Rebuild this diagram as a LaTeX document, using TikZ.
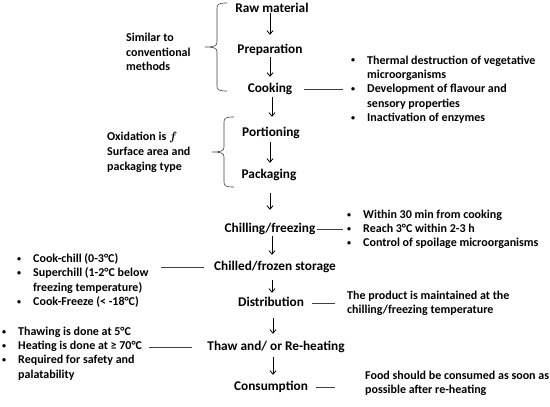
\documentclass[tikz,border=0pt]{standalone}
\usepackage{fontspec}
\setmainfont{Carlito}
\usetikzlibrary{arrows.meta}
\newcommand\bitem{\makebox[16pt][l]{\raisebox{1.2pt}{\fontsize{8}{8}\selectfont\textbullet}}}
\newcommand\bindent{\makebox[16pt][l]{}}
\begin{document}
\begin{tikzpicture}[x=1pt,y=-1pt,
  mainbox/.style={font=\fontsize{13.3}{15}\selectfont\bfseries, inner sep=0pt, text height=9pt, text depth=3pt, anchor=base},
  side/.style={font=\fontsize{12}{14.3}\selectfont\bfseries, inner sep=0pt, align=left, anchor=west},
  arr/.style={draw=black, line width=0.8pt, -{Straight Barb[length=3.5pt,width=6pt,line width=0.8pt]}},
  conn/.style={draw=black!75, line width=0.6pt},
  bracestyle/.style={draw=black!75, line width=0.6pt}]
\useasboundingbox (0,0) rectangle (550,407);
% main steps
\node[mainbox] (raw)  at (272,12.5)  {Raw material};
\node[mainbox] (prep) at (270,53.5)  {Preparation};
\node[mainbox] (cook) at (270,92.5)  {Cooking};
\node[mainbox] (port) at (271,136.5) {Portioning};
\node[mainbox] (pack) at (269,178.5) {Packaging};
\node[mainbox] (chill) at (270,232.5) {Chilling/freezing};
\node[mainbox] (stor) at (275,270.5) {Chilled/frozen storage};
\node[mainbox] (dist) at (271,306.5) {Distribution};
\node[mainbox] (thaw) at (276,350.5) {Thaw and/ or Re-heating};
\node[mainbox] (cons) at (271,390.5) {Consumption};
% arrows
\draw[arr, shorten <=-2.5pt, shorten >=9.5pt] (270,15.5) coordinate (a1) -- (a1 |- prep.north);
\draw[arr, shorten <=0.5pt, shorten >=6.5pt] (prep.south -| a1) -- (a1 |- cook.north);
\draw[arr, shorten <=1.5pt, shorten >=10.5pt] (272,95.5) coordinate (a3) -- (a3 |- port.north);
\draw[arr, shorten <=2.5pt, shorten >=6.5pt] (270,139.5) coordinate (a4) -- (a4 |- pack.north);
\draw[arr, shorten <=11.5pt, shorten >=13.5pt] (pack.south -| a4) -- (a4 |- chill.north);
\draw[arr, shorten <=0.5pt, shorten >=6.5pt] (272,235.5) coordinate (a6) -- (a6 |- stor.north);
\draw[arr, shorten <=6.5pt, shorten >=4.5pt] (stor.south -| a6) -- (a6 |- dist.north);
\draw[arr, shorten <=8.5pt, shorten >=7.5pt] (273,309.5) coordinate (a8) -- (a8 |- thaw.north);
\draw[arr, shorten <=3.5pt, shorten >=6.5pt] (thaw.south -| a8) -- (a8 |- cons.north);
% side texts
\node[side] (sim) at (126,52) {Similar to\\conventional\\methods};
\node[side, font=\fontsize{12}{15}\selectfont\bfseries] (oxi) at (107,152) {Oxidation is {\boldmath$f$}\\Surface area and\\packaging type};
\node[side] (cookl) at (351,89.5) {\bitem Thermal destruction of vegetative\\\bindent microorganisms\\\bitem Development of flavour and\\\bindent sensory properties\\\bitem Inactivation of enzymes};
\node[side] (chilll) at (347,229.5) {\bitem Within 30 min from cooking\\\bitem Reach 3°C within 2-3 h\\\bitem Control of spoilage microorganisms};
\node[side] (storl) at (17,280.5) {\bitem Cook-chill (0-3°C)\\\bitem Superchill (1-2°C below\\\bindent freezing temperature)\\\bitem Cook-Freeze (< -18°C)};
\node[side] (distl) at (347,303.5) {The product is maintained at the\\chilling/freezing temperature};
\node[side] (thawl) at (2,353.5) {\bitem Thawing is done at 5°C\\\bitem Heating is done at ≥ 70°C\\\bitem Required for safety and\\\bindent palatability};
\node[side] (consl) at (365,383.5) {Food should be consumed as soon as\\possible after re-heating};
% connectors
\draw[conn, shorten <=12pt, shorten >=8pt] (cook.east) -- (cook.east -| cookl.west);
\draw[conn, shorten <=1pt, shorten >=4pt] (chill.east) -- (chill.east -| chilll.west);
\draw[conn, shorten <=10pt, shorten >=12pt] (stor.west) -- (stor.west -| storl.east);
\draw[conn, shorten <=8pt, shorten >=12pt] (dist.east) -- (dist.east -| distl.west);
\draw[conn, shorten <=15pt, shorten >=7pt] (thaw.west) -- (thaw.west -| thawl.east);
\draw[conn, shorten <=8pt, shorten >=30pt] (cons.east) -- (cons.east -| consl.west);
% braces
\draw[bracestyle] (227,3) .. controls (219,3) and (217,4) .. (217,8) -- (217,42) .. controls (217,46) and (214,47) .. (205,47)
  .. controls (214,47) and (217,48) .. (217,52) -- (217,86) .. controls (217,90) and (219,91) .. (227,91);
\draw[bracestyle] (234,117) .. controls (226,117) and (224,118) .. (224,122) -- (224,147) .. controls (224,151) and (221,152) .. (212,152)
  .. controls (221,152) and (224,153) .. (224,157) -- (224,182) .. controls (224,186) and (226,187) .. (234,187);
\end{tikzpicture}
\end{document}
